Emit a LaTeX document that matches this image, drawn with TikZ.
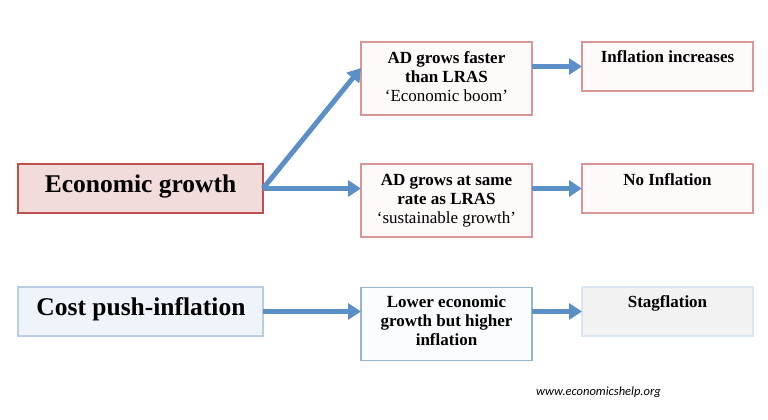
\documentclass[tikz,border=0pt]{standalone}
\usepackage{fontspec}
\setmainfont{Liberation Serif}
\newfontfamily\urlfont{Carlito}
\usetikzlibrary{arrows.meta}
\definecolor{arrowblue}{HTML}{5B8FC8}
\definecolor{egfill}{HTML}{F2DCDB}
\definecolor{egdraw}{HTML}{C0504D}
\definecolor{rdraw}{HTML}{D99694}
\definecolor{rfill}{HTML}{FEFAF9}
\definecolor{cpfill}{HTML}{EFF4FA}
\definecolor{cpdraw}{HTML}{B9CDE5}
\definecolor{lowdraw}{HTML}{95B3D7}
\definecolor{lowfill}{HTML}{FBFCFE}
\definecolor{stfill}{HTML}{F2F2F2}
\definecolor{stdraw}{HTML}{DCE6F2}
\tikzset{
  box/.style={draw, line width=1.8pt, inner sep=0pt, outer sep=0pt},
  bigbox/.style={box, minimum width=245pt, minimum height=49pt},
  midbox/.style={box, minimum width=171pt, minimum height=73pt},
  endbox/.style={box, minimum width=171pt, minimum height=49pt},
  bigtext/.style={anchor=base, inner sep=0pt, font=\fontsize{25.5}{30}\bfseries\selectfont},
  smalltext/.style={anchor=base, inner sep=0pt, align=center, font=\fontsize{17}{19}\bfseries\selectfont},
  flow/.style={draw=arrowblue, line width=5pt, -{Triangle[length=13pt,width=16pt]}}
}
\begin{document}
\begin{tikzpicture}[x=1pt,y=-1pt]
\useasboundingbox (0,0) rectangle (768,420);
% boxes
\node[bigbox, fill=egfill, draw=egdraw] (eg) at (140.5,188.5) {};
\node[midbox, fill=rfill, draw=rdraw] (ad1) at (446.5,78.5) {};
\node[endbox, fill=rfill, draw=rdraw] (inf) at (667.5,66.5) {};
\node[midbox, fill=rfill, draw=rdraw] (ad2) at (446.5,200.5) {};
\node[endbox, fill=rfill, draw=rdraw] (noinf) at (667.5,188.5) {};
\node[bigbox, fill=cpfill, draw=cpdraw] (cp) at (140.5,311.5) {};
\node[midbox, fill=lowfill, draw=lowdraw] (low) at (446.5,324) {};
\node[endbox, fill=stfill, draw=stdraw] (stag) at (667.5,311.5) {};
% texts (multi-line nodes are placed by the baseline of their last line)
\node[bigtext] (egt) at (140.5,192) {Economic growth};
\node[bigtext] (cpt) at (141,315) {Cost push-inflation};
\node[smalltext] (ad1t) at (446.5,101) {AD grows faster\\than LRAS\\\mdseries ‘Economic boom’};
\node[smalltext] (inft) at (667.5,63) {Inflation increases};
\node[smalltext] (ad2t) at (446.5,223) {AD grows at same\\rate as LRAS\\\mdseries ‘sustainable growth’};
\node[smalltext] (noinft) at (667.5,185) {No Inflation};
\node[smalltext] (lowt) at (446.5,345) {Lower economic\\growth but higher\\inflation};
\node[smalltext] (stagt) at (667.5,307) {Stagflation};
\node[anchor=base, inner sep=0pt, font=\urlfont\itshape\fontsize{12.5}{14}\selectfont] (url) at (598.5,395) {www.economicshelp.org};
% connectors
\draw[flow] (eg.east) -- ([yshift=10.5pt]ad1.west);
\draw[flow] (eg.east) -- (eg.east -| ad2.west);
\draw[flow] (ad1.east |- inf.west) -- (inf.west);
\draw[flow] (ad2.east |- noinf.west) -- (noinf.west);
\draw[flow] (cp.east) -- (cp.east -| low.west);
\draw[flow] (low.east |- stag.west) -- (stag.west);
\end{tikzpicture}
\end{document}
